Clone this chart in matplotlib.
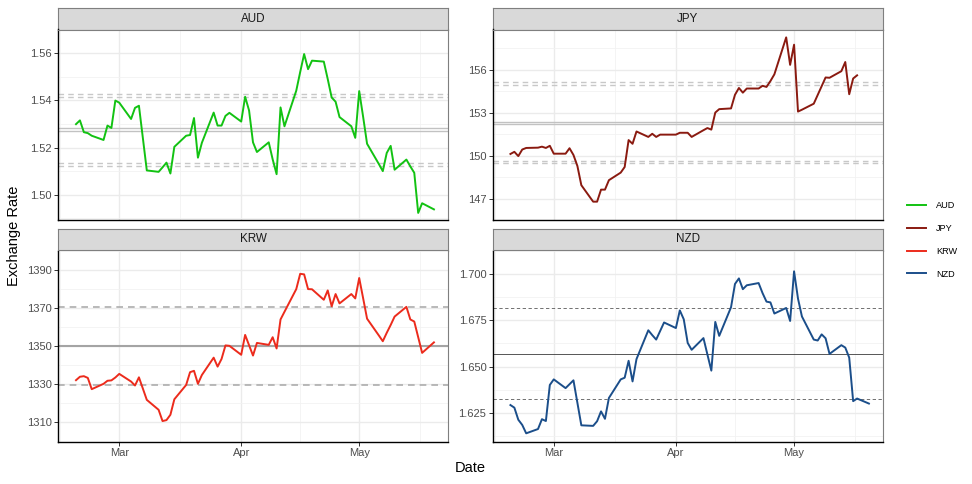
import numpy as np
import pandas as pd
import matplotlib
matplotlib.use("Agg")
import matplotlib.pyplot as plt
import matplotlib.dates as mdates
from matplotlib.lines import Line2D

plt.rcParams['font.family'] = ['Liberation Sans', 'DejaVu Sans']

# business days, Feb 19 - May 20 2024
dates = pd.bdate_range("2024-02-19", "2024-05-20")
currencies = ["AUD", "JPY", "KRW", "NZD"]

aud = [1.5299, 1.5315, 1.5265, 1.5261, 1.5250,
       1.5232, 1.5293, 1.5283, 1.5399, 1.5390,
       1.5321, 1.5368, 1.5377, 1.5240, 1.5103,
       1.5097, 1.5116, 1.5136, 1.5090, 1.5203,
       1.5250, 1.5253, 1.5325, 1.5157, 1.5220,
       1.5348, 1.5293, 1.5293, 1.5334, 1.5347,
       1.5310, 1.5415, 1.5357, 1.5222, 1.5181,
       1.5222, 1.5150, 1.5087, 1.5370, 1.5290,
       1.5441, 1.5520, 1.5596, 1.5532, 1.5568,
       1.5564, 1.5490, 1.5412, 1.5394, 1.5329,
       1.5290, 1.5241, 1.5439, 1.5330, 1.5216,
       1.5130, 1.5100, 1.5177, 1.5207, 1.5106,
       1.5149, 1.5120, 1.5093, 1.4923, 1.4964,
       1.4938]
jpy = [150.11, 150.26, 149.96, 150.42, 150.53,
       150.55, 150.62, 150.53, 150.68, 150.13,
       150.13, 150.51, 150.04, 149.27, 147.93,
       146.78, 146.78, 147.62, 147.62, 148.28,
       148.81, 149.20, 151.08, 150.82, 151.68,
       151.30, 151.52, 151.30, 151.46, 151.46,
       151.46, 151.59, 151.59, 151.59, 151.30,
       151.77, 151.92, 151.81, 153.00, 153.24,
       153.29, 154.24, 154.72, 154.39, 154.68,
       154.68, 154.87, 154.79, 155.20, 155.67,
       158.25, 156.33, 157.74, 153.07, 153.20,
       153.62, 154.23, 154.84, 155.45, 155.43,
       155.89, 156.53, 154.28, 155.38, 155.60,
       np.nan]
krw = [1332.1, 1333.9, 1334.2, 1333.3, 1327.4,
       1330.2, 1331.8, 1332.0, 1333.5, 1335.4,
       1331.4, 1329.3, 1333.6, 1327.7, 1321.8,
       1316.6, 1310.7, 1311.2, 1314.0, 1322.1,
       1329.6, 1336.3, 1337.0, 1330.2, 1334.8,
       1343.9, 1339.2, 1343.2, 1350.3, 1350.1,
       1345.4, 1355.8, 1350.4, 1345.0, 1351.6,
       1350.6, 1354.6, 1348.7, 1363.9, 1367.9,
       1379.8, 1387.8, 1387.5, 1379.8, 1379.7,
       1374.2, 1379.1, 1370.8, 1377.2, 1372.3,
       1377.2, 1374.9, 1385.6, 1375.0, 1364.3,
       1355.5, 1352.5, 1356.9, 1361.0, 1365.4,
       1370.5, 1363.9, 1362.8, 1354.6, 1346.4,
       1351.9]
nzd = [1.6294, 1.6280, 1.6215, 1.6187, 1.6142,
       1.6165, 1.6218, 1.6208, 1.6402, 1.6432,
       1.6385, 1.6406, 1.6427, 1.6306, 1.6185,
       1.6182, 1.6207, 1.6260, 1.6220, 1.6332,
       1.6432, 1.6441, 1.6532, 1.6421, 1.6541,
       1.6696, 1.6670, 1.6646, 1.6692, 1.6738,
       1.6708, 1.6803, 1.6755, 1.6628, 1.6591,
       1.6654, 1.6566, 1.6479, 1.6741, 1.6666,
       1.6820, 1.6945, 1.6975, 1.6917, 1.6938,
       1.6950, 1.6896, 1.6850, 1.6846, 1.6786,
       1.6816, 1.6746, 1.7013, 1.6866, 1.6770,
       1.6646, 1.6641, 1.6674, 1.6653, 1.6569,
       1.6616, 1.6603, 1.6549, 1.6315, 1.6329,
       1.6302]
values = {"AUD": aud, "JPY": jpy, "KRW": krw, "NZD": nzd}

# reference lines (mean and +/- sd)
mean_lines = {"AUD": [1.5283, 1.5270], "JPY": [152.34, 152.18],
              "KRW": [1350.1], "NZD": [1.6569]}
sd_lines = {"AUD": [1.5428, 1.5415, 1.5133, 1.5121],
            "JPY": [155.10, 154.92, 149.65, 149.47],
            "KRW": [1370.5, 1329.8], "NZD": [1.6815, 1.6327]}

yticks = {"AUD": [1.50, 1.52, 1.54, 1.56], "JPY": [147, 150, 153, 156],
          "KRW": [1310, 1330, 1350, 1370, 1390],
          "NZD": [1.625, 1.650, 1.675, 1.700]}
ylims = {"AUD": (1.4893, 1.5628), "JPY": (146.23, 158.80),
         "KRW": (1307.05, 1391.6), "NZD": (1.6098, 1.7055)}
yfmt = {"AUD": "%.2f", "JPY": "%d", "KRW": "%d", "NZD": "%.3f"}

colors = {"AUD": "#12C212", "JPY": "#8A1A10", "KRW": "#EC2B1C", "NZD": "#1B4E8A"}
ref_style = {"AUD": dict(mc="#C2C2C2", mw=1.0, sc="#C8C8C8", sw=1.0),
             "JPY": dict(mc="#C2C2C2", mw=1.0, sc="#C8C8C8", sw=1.0),
             "KRW": dict(mc="#A4A4A4", mw=1.5, sc="#ADADAD", sw=1.2),
             "NZD": dict(mc="#3A3A3A", mw=0.6, sc="#5A5A5A", sw=0.6)}

W, H = 972, 484
fig = plt.figure(figsize=(W / 100, H / 100), dpi=100)


def rect(x0, y0, x1, y1):
    return [x0 / W, 1 - y1 / H, (x1 - x0) / W, (y1 - y0) / H]


cols = [(58.3, 447.7), (492.7, 882.7)]
rows = [(7.5, 29.5, 220.0), (228.5, 250.5, 441.5)]
mar1 = pd.Timestamp("2024-03-01")
xmin = mar1 - pd.Timedelta(days=15.5)
xmax = mar1 + pd.Timedelta(days=83.5)
majors = pd.to_datetime(["2024-03-01", "2024-04-01", "2024-05-01"])
minors = [pd.Timestamp("2024-02-15"), pd.Timestamp("2024-03-16 12:00"),
          pd.Timestamp("2024-04-16"), pd.Timestamp("2024-05-16 12:00")]

handles = []
for i, cur in enumerate(currencies):
    r, c = divmod(i, 2)
    x0, x1 = cols[c]
    st, pt, pb = rows[r]

    # strip
    sax = fig.add_axes(rect(x0, st, x1, pt))
    sax.set_facecolor("#D9D9D9")
    sax.set_xticks([])
    sax.set_yticks([])
    for s in sax.spines.values():
        s.set_color("#7F7F7F")
        s.set_linewidth(0.8)
    sax.text(0.5, 0.5, cur, ha="center", va="center", fontsize=8.4,
             color="#1A1A1A", transform=sax.transAxes)

    ax = fig.add_axes(rect(x0, pt, x1, pb))
    ax.set_xlim(xmin, xmax)
    ax.set_ylim(*ylims[cur])
    ax.set_yticks(yticks[cur])
    ax.yaxis.set_major_formatter(matplotlib.ticker.FormatStrFormatter(yfmt[cur]))
    yt = yticks[cur]
    step = yt[1] - yt[0]
    ax.set_yticks([v + step / 2 for v in [yt[0] - step] + yt], minor=True)
    ax.set_xticks(majors)
    ax.set_xticks(minors, minor=True)
    ax.xaxis.set_major_formatter(mdates.DateFormatter("%b"))
    ax.grid(True, which="major", color="#EBEBEB", lw=1.0, zorder=0)
    ax.grid(True, which="minor", color="#F2F2F2", lw=0.6, zorder=0)
    ax.set_axisbelow(True)
    ax.tick_params(which="minor", length=0)
    ax.tick_params(which="major", length=3, width=0.7, color="#333333",
                   labelsize=8, labelcolor="#4D4D4D", pad=1.5)
    if r == 0:
        ax.tick_params(axis="x", which="major", length=0, labelbottom=False)
    for side in ("left", "bottom"):
        ax.spines[side].set_color("black")
        ax.spines[side].set_linewidth(1.0)
    for side in ("top", "right"):
        ax.spines[side].set_color("#7F7F7F")
        ax.spines[side].set_linewidth(0.8)

    stl = ref_style[cur]
    for v in mean_lines[cur]:
        ax.axhline(v, color=stl["mc"], lw=stl["mw"], zorder=1.5)
    for v in sd_lines[cur]:
        ax.axhline(v, color=stl["sc"], lw=stl["sw"], ls=(0, (4, 3)), zorder=1.5)

    ax.plot(dates, values[cur], color=colors[cur], lw=1.4, zorder=3)
    handles.append(Line2D([], [], color=colors[cur], lw=1.4))

fig.text(14 / W, 1 - 236 / H, "Exchange Rate", rotation=90, ha="center",
         va="center", fontsize=10.5, color="black")
fig.text(470 / W, 1 - 468 / H, "Date", ha="center", va="center",
         fontsize=10.5, color="black")

fig.legend(handles, currencies, loc="center left",
           bbox_to_anchor=(907 / W, 1 - 240 / H), frameon=False,
           fontsize=6.6, handlelength=2.1, handletextpad=1.05,
           labelspacing=1.5, borderpad=0, borderaxespad=0)

fig.savefig("out.png", dpi=100)
